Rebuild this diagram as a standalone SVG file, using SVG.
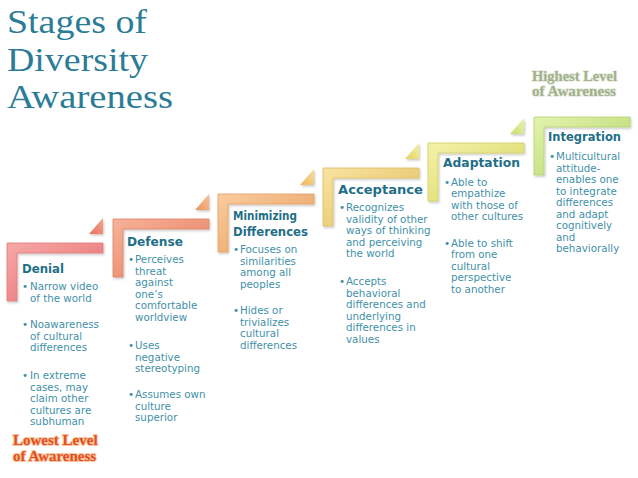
<svg xmlns="http://www.w3.org/2000/svg" width="638" height="478" viewBox="0 0 638 478">
<defs>
<style>
.title{font-family:"Liberation Serif",serif;font-size:33.5px;fill:#2b7c96}
.h{font-family:"DejaVu Sans",sans-serif;font-weight:bold;font-size:12.5px;fill:#1f6f88}
.b{font-family:"DejaVu Sans",sans-serif;font-size:10.3px;fill:#3f90a9}
.lvl{font-family:"Liberation Serif",serif;font-weight:bold;paint-order:stroke;stroke-linejoin:round}
.brk{stroke-width:0.8}
</style>
<filter id="sh" x="-20%" y="-20%" width="140%" height="140%">
<feDropShadow dx="1" dy="1.5" stdDeviation="1.2" flood-color="#000" flood-opacity="0.22"/>
</filter>
<linearGradient id="g1" x1="0" y1="0" x2="1" y2="1"><stop offset="0" stop-color="#f7a8a8"/><stop offset="1" stop-color="#e66c6c"/></linearGradient>
<linearGradient id="g2" x1="0" y1="0" x2="1" y2="1"><stop offset="0" stop-color="#f7b29a"/><stop offset="1" stop-color="#e47c5c"/></linearGradient>
<linearGradient id="g3" x1="0" y1="0" x2="1" y2="1"><stop offset="0" stop-color="#f9cc9e"/><stop offset="1" stop-color="#e89c5c"/></linearGradient>
<linearGradient id="g4" x1="0" y1="0" x2="1" y2="1"><stop offset="0" stop-color="#f8e4a2"/><stop offset="1" stop-color="#e2bd5c"/></linearGradient>
<linearGradient id="g5" x1="0" y1="0" x2="1" y2="1"><stop offset="0" stop-color="#f4f2aa"/><stop offset="1" stop-color="#d8d45c"/></linearGradient>
<linearGradient id="g6" x1="0" y1="0" x2="1" y2="1"><stop offset="0" stop-color="#e4f3ae"/><stop offset="1" stop-color="#b4d46a"/></linearGradient>
<linearGradient id="t1" x1="0" y1="1" x2="1" y2="0"><stop offset="0" stop-color="#e9735e"/><stop offset="1" stop-color="#f4a58a"/></linearGradient>
<linearGradient id="t2" x1="0" y1="1" x2="1" y2="0"><stop offset="0" stop-color="#ec955c"/><stop offset="1" stop-color="#f6c296"/></linearGradient>
<linearGradient id="t3" x1="0" y1="1" x2="1" y2="0"><stop offset="0" stop-color="#edb85c"/><stop offset="1" stop-color="#f8dca0"/></linearGradient>
<linearGradient id="t4" x1="0" y1="1" x2="1" y2="0"><stop offset="0" stop-color="#e2d45c"/><stop offset="1" stop-color="#f6f0a6"/></linearGradient>
<linearGradient id="t5" x1="0" y1="1" x2="1" y2="0"><stop offset="0" stop-color="#c8dc6a"/><stop offset="1" stop-color="#ecf4b0"/></linearGradient>
<path id="bracket" d="M0,0 H96 V10 H10 V58 H0 Z"/>
<path id="tri" d="M82,-9 H96 V-25 Z"/>
</defs>
<rect width="638" height="478" fill="#ffffff"/>

<g id="title">
<text class="title" x="7" y="33" textLength="140" lengthAdjust="spacingAndGlyphs">Stages of</text>
<text class="title" x="7" y="70.5" textLength="141" lengthAdjust="spacingAndGlyphs">Diversity</text>
<text class="title" x="7" y="108" textLength="166" lengthAdjust="spacingAndGlyphs">Awareness</text>
</g>

<g id="connectors">
<use href="#tri" transform="translate(7,243)" fill="url(#t1)" filter="url(#sh)"/>
<use href="#tri" transform="translate(113,219)" fill="url(#t2)" filter="url(#sh)"/>
<use href="#tri" transform="translate(218,194)" fill="url(#t3)" filter="url(#sh)"/>
<use href="#tri" transform="translate(323,168)" fill="url(#t4)" filter="url(#sh)"/>
<use href="#tri" transform="translate(428,143)" fill="url(#t5)" filter="url(#sh)"/>
</g>

<g id="denial">
<use href="#bracket" transform="translate(7,243)" fill="url(#g1)" stroke="#e27878" class="brk" filter="url(#sh)"/>
<text class="h" x="22" y="272.5" textLength="42" lengthAdjust="spacingAndGlyphs">Denial</text>
<text class="b" x="22" y="290">•</text>
<text class="b" x="30" y="290">Narrow video<tspan x="30" dy="11.5">of the world</tspan></text>
<text class="b" x="22" y="328">•</text>
<text class="b" x="30" y="328">Noawareness<tspan x="30" dy="11.5">of cultural</tspan><tspan x="30" dy="11.5">differences</tspan></text>
<text class="b" x="22" y="379">•</text>
<text class="b" x="30" y="379">In extreme<tspan x="30" dy="11.5">cases, may</tspan><tspan x="30" dy="11.5">claim other</tspan><tspan x="30" dy="11.5">cultures are</tspan><tspan x="30" dy="11.5">subhuman</tspan></text>
</g>

<g id="lowest-level">
<text class="lvl" x="13" y="445" font-size="15" fill="#e2501c" stroke="#f9c4a0" stroke-width="2">Lowest Level</text>
<text class="lvl" x="13" y="461" font-size="15" fill="#e2501c" stroke="#f9c4a0" stroke-width="2">of Awareness</text>
</g>

<g id="defense">
<use href="#bracket" transform="translate(113,219)" fill="url(#g2)" stroke="#e08262" class="brk" filter="url(#sh)"/>
<text class="h" x="127" y="245.5" textLength="56" lengthAdjust="spacingAndGlyphs">Defense</text>
<text class="b" x="128" y="263">•</text>
<text class="b" x="135" y="263">Perceives<tspan x="135" dy="11.6">threat</tspan><tspan x="135" dy="11.6">against</tspan><tspan x="135" dy="11.6">one’s</tspan><tspan x="135" dy="11.6">comfortable</tspan><tspan x="135" dy="11.6">worldview</tspan></text>
<text class="b" x="128" y="349">•</text>
<text class="b" x="135" y="349">Uses<tspan x="135" dy="11.6">negative</tspan><tspan x="135" dy="11.6">stereotyping</tspan></text>
<text class="b" x="128" y="398">•</text>
<text class="b" x="135" y="398">Assumes own<tspan x="135" dy="11.6">culture</tspan><tspan x="135" dy="11.6">superior</tspan></text>
</g>

<g id="minimizing">
<use href="#bracket" transform="translate(218,194)" fill="url(#g3)" stroke="#e4a062" class="brk" filter="url(#sh)"/>
<text class="h" x="233" y="219.5" textLength="64" lengthAdjust="spacingAndGlyphs">Minimizing</text>
<text class="h" x="233" y="235.5" textLength="75" lengthAdjust="spacingAndGlyphs">Differences</text>
<text class="b" x="233" y="253">•</text>
<text class="b" x="240" y="253">Focuses on<tspan x="240" dy="11.6">similarities</tspan><tspan x="240" dy="11.6">among all</tspan><tspan x="240" dy="11.6">peoples</tspan></text>
<text class="b" x="233" y="314">•</text>
<text class="b" x="240" y="314">Hides or<tspan x="240" dy="11.6">trivializes</tspan><tspan x="240" dy="11.6">cultural</tspan><tspan x="240" dy="11.6">differences</tspan></text>
</g>

<g id="acceptance">
<use href="#bracket" transform="translate(323,168)" fill="url(#g4)" stroke="#dcbd62" class="brk" filter="url(#sh)"/>
<text class="h" x="338" y="193.5" textLength="85" lengthAdjust="spacingAndGlyphs">Acceptance</text>
<text class="b" x="339" y="211">•</text>
<text class="b" x="346" y="211">Recognizes<tspan x="346" dy="11.5">validity of other</tspan><tspan x="346" dy="11.5">ways of thinking</tspan><tspan x="346" dy="11.5">and perceiving</tspan><tspan x="346" dy="11.5">the world</tspan></text>
<text class="b" x="339" y="285">•</text>
<text class="b" x="346" y="285">Accepts<tspan x="346" dy="11.5">behavioral</tspan><tspan x="346" dy="11.5">differences and</tspan><tspan x="346" dy="11.5">underlying</tspan><tspan x="346" dy="11.5">differences in</tspan><tspan x="346" dy="11.5">values</tspan></text>
</g>

<g id="adaptation">
<use href="#bracket" transform="translate(428,143)" fill="url(#g5)" stroke="#d2cf64" class="brk" filter="url(#sh)"/>
<text class="h" x="443" y="166.5" textLength="77" lengthAdjust="spacingAndGlyphs">Adaptation</text>
<text class="b" x="444" y="186">•</text>
<text class="b" x="451" y="186">Able to<tspan x="451" dy="11.3">empathize</tspan><tspan x="451" dy="11.3">with those of</tspan><tspan x="451" dy="11.3">other cultures</tspan></text>
<text class="b" x="444" y="247">•</text>
<text class="b" x="451" y="247">Able to shift<tspan x="451" dy="11.4">from one</tspan><tspan x="451" dy="11.4">cultural</tspan><tspan x="451" dy="11.4">perspective</tspan><tspan x="451" dy="11.4">to another</tspan></text>
</g>

<g id="integration">
<use href="#bracket" transform="translate(534,117)" fill="url(#g6)" stroke="#b4d270" class="brk" filter="url(#sh)"/>
<text class="h" x="548" y="140.5" textLength="73" lengthAdjust="spacingAndGlyphs">Integration</text>
<text class="b" x="549" y="160">•</text>
<text class="b" x="556" y="160">Multicultural<tspan x="556" dy="11.5">attitude-</tspan><tspan x="556" dy="11.5">enables one</tspan><tspan x="556" dy="11.5">to integrate</tspan><tspan x="556" dy="11.5">differences</tspan><tspan x="556" dy="11.5">and adapt</tspan><tspan x="556" dy="11.5">cognitively</tspan><tspan x="556" dy="11.5">and</tspan><tspan x="556" dy="11.5">behaviorally</tspan></text>
</g>

<g id="highest-level">
<text class="lvl" x="532" y="81" font-size="14" textLength="85" lengthAdjust="spacingAndGlyphs" fill="#a2b08c" stroke="#e4eadc" stroke-width="1.5">Highest Level</text>
<text class="lvl" x="532" y="96" font-size="14" textLength="84" lengthAdjust="spacingAndGlyphs" fill="#a2b08c" stroke="#e4eadc" stroke-width="1.5">of Awareness</text>
</g>
</svg>
